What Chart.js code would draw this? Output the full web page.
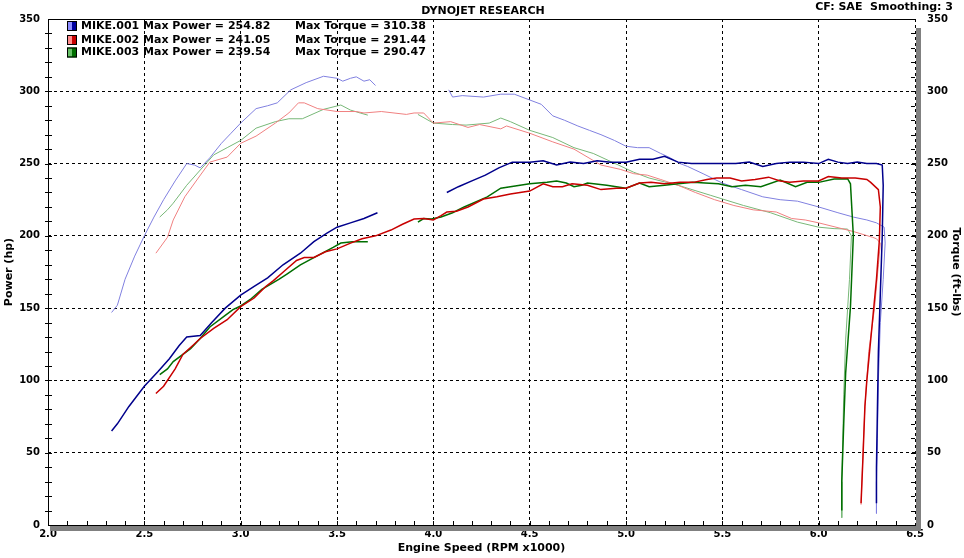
<!DOCTYPE html>
<html>
<head>
<meta charset="utf-8">
<script src="https://cdn.jsdelivr.net/npm/chart.js@4.4.0/dist/chart.umd.min.js"></script>
<style>
  html, body { margin: 0; padding: 0; background: #fff; }
</style>
</head>
<body>
<canvas id="dynoChart" width="964" height="558"></canvas>
<script>
// axis ticks
var rpmTicks = [2.0, 2.5, 3.0, 3.5, 4.0, 4.5, 5.0, 5.5, 6.0, 6.5];
var valueTicks = [0, 50, 100, 150, 200, 250, 300, 350];

// legend
var runNames = ['MIKE.001', 'MIKE.002', 'MIKE.003'];
var maxPower = ['254.82', '241.05', '239.54'];
var maxTorque = ['310.38', '291.44', '290.47'];

// MIKE.001 (null = gap in the trace)
var mike1PowerRpm = [2.33,2.36,2.42,2.50,2.57,2.63,2.68,2.72,2.79,2.85,2.92,3.00,3.07,3.14,3.22,3.31,3.38,3.45,3.50,3.57,3.64,3.71,3.90,4.07,4.13,4.20,4.27,4.34,4.41,4.50,4.57,4.64,4.71,4.78,4.85,4.92,5.00,5.07,5.14,5.20,5.27,5.34,5.41,5.50,5.57,5.64,5.71,5.78,5.85,5.92,6.00,6.05,6.10,6.15,6.20,6.25,6.30,6.33,6.335,6.33,6.32,6.31,6.305,6.30,6.30];
var mike1Power = [65,70,82,96,106,115,124,130,131,140,150,159,165,171,180,188,196,202,206,209,212,216,null,230,234,238,242,247,251,251,252,249,251,250,252,251,251,253,253,255,251,250,250,250,250,251,248,250,251,251,250,253,251,250,251,250,250,249,235,200,160,120,80,40,15];
var mike1TorqueRpm = [2.33,2.36,2.40,2.45,2.50,2.55,2.60,2.66,2.72,2.76,2.79,2.84,2.90,2.95,3.00,3.08,3.14,3.19,3.26,3.34,3.43,3.50,3.53,3.57,3.60,3.64,3.67,3.70,3.90,4.08,4.10,4.15,4.26,4.35,4.42,4.50,4.56,4.62,4.68,4.75,4.81,4.87,4.94,5.00,5.06,5.12,5.18,5.23,5.28,5.32,5.40,5.50,5.60,5.71,5.80,5.89,6.00,6.10,6.18,6.25,6.30,6.34,6.345,6.335,6.32,6.31,6.305,6.30,6.30];
var mike1Torque = [147,152,170,186,200,213,225,238,250,249,247,254,264,271,278,288,290,292,301,306,310.4,309,307,309,310,307,308,304,null,301,296,297,296,298,298,294,291,283,280,276,273,270,266,262,261,261,257,254,250,248,243,236.5,232,227,225,224,220,216,213,211,209,206,195,170,140,100,60,30,8];

// MIKE.002
var mike2PowerRpm = [2.56,2.60,2.66,2.70,2.75,2.79,2.86,2.93,3.00,3.07,3.13,3.17,3.23,3.29,3.33,3.38,3.44,3.50,3.57,3.63,3.70,3.78,3.84,3.90,3.95,4.00,4.04,4.07,4.12,4.18,4.26,4.33,4.40,4.50,4.57,4.62,4.67,4.72,4.80,4.87,4.95,5.00,5.07,5.13,5.20,5.28,5.35,5.42,5.47,5.54,5.60,5.67,5.74,5.80,5.85,5.92,6.00,6.05,6.12,6.19,6.25,6.27,6.31,6.32,6.315,6.30,6.27,6.25,6.24,6.23,6.22];
var mike2Power = [91,96,108,118,124,129,136,142,151,157,165,169,176,183,185,185,189,191,195,198,200,204,208,211.6,212,211,214,216.5,217,220,225.5,227,229,231,236,234,234,236,235,232,233,233,236.5,237,236,237,237,239,240,240,238,239,240.6,238,237,238,238,241,240,240,239,237,232,220,197,170,128,100,82,47,15];
var mike2TorqueRpm = [2.56,2.62,2.65,2.71,2.78,2.84,2.93,3.00,3.08,3.18,3.25,3.30,3.33,3.40,3.50,3.60,3.64,3.73,3.86,3.90,3.95,4.00,4.09,4.18,4.24,4.35,4.38,4.50,4.62,4.73,4.87,4.97,5.04,5.11,5.18,5.27,5.36,5.46,5.56,5.66,5.78,5.86,5.93,6.00,6.09,6.18,6.23,6.28,6.30,6.32,6.31,6.29,6.26,6.24,6.23,6.22];
var mike2Torque = [188,199,211,227,240,251,254.5,264,269,278,285,292,292,288,286,286,285,286,284,285,285,278,279,275,277,274,276,271,265,260,249,246,243,242,239,235,230,225,221,218,216.5,212,211,209,206,203,201,199,198,195,180,150,120,82,50,14];

// MIKE.003
var mike3PowerRpm = [2.58,2.62,2.65,2.74,2.79,2.84,2.92,2.96,3.00,3.05,3.11,3.20,3.24,3.31,3.38,3.48,3.52,3.58,3.66,3.80,3.92,3.95,3.99,4.04,4.10,4.16,4.28,4.35,4.45,4.50,4.59,4.64,4.69,4.73,4.77,4.80,4.90,5.00,5.07,5.12,5.20,5.27,5.35,5.41,5.48,5.55,5.62,5.70,5.80,5.88,5.94,6.00,6.08,6.15,6.165,6.18,6.165,6.14,6.13,6.12,6.12];
var mike3Power = [104,108,113,122,129,137,145,149,151.5,156,163,170,173.6,180,185,192,195,196,196,null,209.5,212,211.6,213,216,220,227,233,235,236,237,238,236.5,234,235,236.5,235,233,236.5,234,235,236,237,236.5,236,234,235,234,238.6,234,237,237,239.3,239.5,236,200,151,105,70,30,10];
var mike3TorqueRpm = [2.58,2.62,2.65,2.72,2.79,2.86,2.93,3.00,3.08,3.18,3.25,3.32,3.43,3.52,3.57,3.62,3.66,3.80,3.92,4.00,4.10,4.17,4.29,4.35,4.40,4.50,4.62,4.73,4.83,4.96,5.04,5.12,5.21,5.27,5.44,5.61,5.75,5.89,6.00,6.08,6.15,6.17,6.16,6.14,6.13,6.125,6.12,6.12];
var mike3Torque = [213,218,222.6,235,245.5,256,261,266,274.5,279,281,281,287.5,290.5,287,285,283.5,null,284,278,277,276.6,278,281.5,279,273,268,261,257,249,244,240,237,235,228,221,216,209.5,206,205,204.7,200,170,128,90,59,30,5];

var FONT = '"DejaVu Sans", Verdana, sans-serif';
Chart.defaults.font.family = FONT;
Chart.defaults.color = '#000';

function points(rpm, vals) {
  return rpm.map(function (r, i) { return { x: r, y: vals[i] }; });
}

function trace(label, rpm, vals, color, width, axis) {
  return {
    label: label,
    data: points(rpm, vals),
    borderColor: color,
    borderWidth: width,
    pointRadius: 0,
    tension: 0,
    spanGaps: false,
    fill: false,
    yAxisID: axis
  };
}

var legendColors = [['#0000a0', '#8c8cff'], ['#c80000', '#ff8c8c'], ['#006e00', '#66c066']];

var dynoFrame = {
  id: 'dynoFrame',
  afterDraw: function (chart) {
    var ctx = chart.ctx, a = chart.chartArea;
    var xs = chart.scales.x, ys = chart.scales.y;
    ctx.save();

    // gray shadow of bottom and right axis
    ctx.fillStyle = '#808080';
    ctx.fillRect(a.left + 2, a.bottom + 1, a.right - a.left + 4, 5);
    ctx.fillRect(a.right + 1, a.top + 9, 5, a.bottom - a.top - 3);

    ctx.strokeStyle = '#000';
    ctx.lineWidth = 1;
    ctx.beginPath();
    ctx.moveTo(a.left + 0.5, a.top); ctx.lineTo(a.left + 0.5, a.bottom + 1);
    ctx.moveTo(a.left, a.top + 0.5); ctx.lineTo(a.right + 1, a.top + 0.5);
    ctx.moveTo(a.left, a.bottom + 0.5); ctx.lineTo(a.right + 1, a.bottom + 0.5);
    ctx.stroke();

    // minor ticks
    ctx.beginPath();
    for (var v = 10; v < 350; v += 10) {
      var py = Math.round(ys.getPixelForValue(v)) + 0.5;
      ctx.moveTo(a.left - 3, py); ctx.lineTo(a.left + 4, py);
      ctx.moveTo(a.right - 4, py); ctx.lineTo(a.right, py);
    }
    for (var r = 21; r < 65; r++) {
      var px = Math.round(xs.getPixelForValue(r / 10)) + 0.5;
      ctx.moveTo(px, a.bottom - 4); ctx.lineTo(px, a.bottom);
    }
    ctx.stroke();

    // titles
    ctx.fillStyle = '#000';
    ctx.font = 'bold 11px ' + FONT;
    ctx.textBaseline = 'middle';
    ctx.textAlign = 'center';
    ctx.fillText('DYNOJET RESEARCH', 483, 11);
    ctx.textAlign = 'right';
    ctx.fillText('CF: SAE  Smoothing: 3', 953, 7);

    // legend
    ctx.textAlign = 'left';
    var rows = [26, 40, 52.5];
    for (var i = 0; i < runNames.length; i++) {
      var ry = rows[i];
      ctx.fillStyle = legendColors[i][0];
      ctx.fillRect(67, ry - 5, 10, 10);
      ctx.fillStyle = legendColors[i][1];
      ctx.fillRect(68, ry - 4, 4, 8);
      ctx.strokeStyle = '#000';
      ctx.strokeRect(67.5, ry - 4.5, 9, 9);
      ctx.fillStyle = '#000';
      ctx.fillText(runNames[i] + ' Max Power = ' + maxPower[i], 81, ry);
      ctx.fillText('Max Torque = ' + maxTorque[i], 295, ry);
    }
    ctx.restore();
  }
};

function gridColor(lo, hi) {
  return function (c) {
    var v = c.tick ? c.tick.value : null;
    return (v !== null && v > lo && v <= hi) ? '#000' : 'rgba(0,0,0,0)';
  };
}

var tickFont = { family: FONT, size: 10, weight: 'bold' };
var titleFont = { family: FONT, size: 11, weight: 'bold' };

new Chart(document.getElementById('dynoChart').getContext('2d'), {
  type: 'line',
  data: {
    datasets: [
      trace('MIKE.001 Power', mike1PowerRpm, mike1Power, '#00008c', 1.5, 'y'),
      trace('MIKE.002 Power', mike2PowerRpm, mike2Power, '#c80000', 1.5, 'y'),
      trace('MIKE.003 Power', mike3PowerRpm, mike3Power, '#006e00', 1.5, 'y'),
      trace('MIKE.001 Torque', mike1TorqueRpm, mike1Torque, '#8080e0', 1, 'y2'),
      trace('MIKE.002 Torque', mike2TorqueRpm, mike2Torque, '#f08080', 1, 'y2'),
      trace('MIKE.003 Torque', mike3TorqueRpm, mike3Torque, '#78b878', 1, 'y2')
    ]
  },
  options: {
    responsive: false,
    animation: false,
    layout: { padding: { top: 19, left: 0, right: 0, bottom: 0 } },
    plugins: { legend: { display: false }, tooltip: { enabled: false } },
    scales: {
      x: {
        type: 'linear', min: 2, max: 6.5,
        afterBuildTicks: function (s) { s.ticks = rpmTicks.map(function (v) { return { value: v }; }); },
        afterFit: function (s) { s.height = 33; },
        ticks: { font: tickFont, padding: 3, maxRotation: 0, autoSkip: false,
                 callback: function (v) { return Number(v).toFixed(1); } },
        grid: { color: gridColor(2, 6.5), drawTicks: false, lineWidth: 1 },
        border: { display: false, dash: [3, 3] },
        title: { display: true, text: 'Engine Speed (RPM x1000)', font: titleFont, padding: { top: 0, bottom: 3 } }
      },
      y: {
        position: 'left', min: 0, max: 350,
        afterBuildTicks: function (s) { s.ticks = valueTicks.map(function (v) { return { value: v }; }); },
        afterFit: function (s) { s.width = 48; },
        ticks: { font: tickFont, padding: 8 },
        grid: { color: gridColor(0, 349), drawTicks: false, lineWidth: 1 },
        border: { display: false, dash: [3, 3] },
        title: { display: true, text: 'Power (hp)', font: titleFont, padding: { top: 3, bottom: 0 } }
      },
      y2: {
        position: 'right', min: 0, max: 350,
        afterBuildTicks: function (s) { s.ticks = valueTicks.map(function (v) { return { value: v }; }); },
        afterFit: function (s) { s.width = 49; },
        ticks: { font: tickFont, padding: 12 },
        grid: { display: false, drawTicks: false },
        border: { display: false },
        title: { display: true, text: 'Torque (ft-lbs)', font: titleFont, padding: { top: 2, bottom: 0 } }
      }
    }
  },
  plugins: [dynoFrame]
});
</script>
</body>
</html>
